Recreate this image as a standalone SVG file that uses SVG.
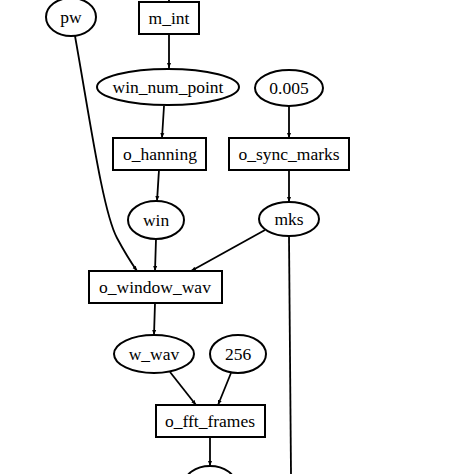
<svg xmlns="http://www.w3.org/2000/svg" width="474" height="474" viewBox="0 0 474 474">
<defs>
<marker id="arr" viewBox="0 0 10 10" refX="10" refY="5" markerWidth="5" markerHeight="5" orient="auto" markerUnits="userSpaceOnUse">
<path d="M0,1 L10,5 L0,9 z" fill="#000"/>
</marker>
<style>
.n{fill:#fff;stroke:#000;stroke-width:2}
.t{font-family:"Liberation Serif","Times New Roman",serif;font-size:17.5px;text-anchor:middle;dominant-baseline:central;fill:#000}
.e{fill:none;stroke:#000;stroke-width:1.8;marker-end:url(#arr)}
.l{fill:none;stroke:#000;stroke-width:1.8}
</style>
</defs>
<rect width="474" height="474" fill="#fff"/>
<g id="connectors">
<line class="l" x1="169" y1="0" x2="169" y2="2"/>
<line class="e" x1="169" y1="34" x2="169" y2="68"/>
<line class="e" x1="164" y1="106" x2="162" y2="138"/>
<line class="e" x1="289" y1="106" x2="289" y2="138"/>
<line class="e" x1="159" y1="170" x2="157" y2="201"/>
<line class="e" x1="289" y1="170" x2="289" y2="202"/>
<path class="e" d="M75,36 C90,120 103,212 117,238 C124,251 130,261 137,271"/>
<line class="e" x1="156" y1="239" x2="155" y2="271"/>
<line class="e" x1="265" y1="230" x2="191" y2="271"/>
<line class="e" x1="155" y1="303" x2="154" y2="335"/>
<line class="e" x1="170" y1="372" x2="196" y2="405"/>
<line class="e" x1="231" y1="373" x2="218" y2="405"/>
<line class="e" x1="210" y1="437" x2="210" y2="466"/>
<line class="l" x1="289" y1="237" x2="291" y2="474"/>
</g>
<g id="pw"><ellipse class="n" cx="71" cy="17" rx="25" ry="19"/><text class="t" x="71" y="17">pw</text></g>
<g id="m_int"><rect class="n" x="139" y="2" width="60" height="32"/><text class="t" x="169" y="18">m_int</text></g>
<g id="win_num_point"><ellipse class="n" cx="168" cy="87" rx="71" ry="18"/><text class="t" x="168" y="87">win_num_point</text></g>
<g id="n0005"><ellipse class="n" cx="289" cy="88" rx="34" ry="18"/><text class="t" x="289" y="88">0.005</text></g>
<g id="o_hanning"><rect class="n" x="113" y="138" width="93" height="32"/><text class="t" x="160" y="154">o_hanning</text></g>
<g id="o_sync_marks"><rect class="n" x="229" y="138" width="120" height="32"/><text class="t" x="289" y="154">o_sync_marks</text></g>
<g id="win"><ellipse class="n" cx="156" cy="220" rx="28" ry="19"/><text class="t" x="156" y="220">win</text></g>
<g id="mks"><ellipse class="n" cx="289" cy="219" rx="30" ry="17"/><text class="t" x="289" y="219">mks</text></g>
<g id="o_window_wav"><rect class="n" x="89" y="271" width="133" height="32"/><text class="t" x="155" y="287">o_window_wav</text></g>
<g id="w_wav"><ellipse class="n" cx="154" cy="354" rx="40" ry="19"/><text class="t" x="154" y="354">w_wav</text></g>
<g id="n256"><ellipse class="n" cx="238" cy="354" rx="28" ry="19"/><text class="t" x="238" y="354">256</text></g>
<g id="o_fft_frames"><rect class="n" x="156" y="405" width="109" height="32"/><text class="t" x="210" y="421">o_fft_frames</text></g>
<g id="bottom"><ellipse class="n" cx="210" cy="485" rx="26" ry="19"/></g>
</svg>
